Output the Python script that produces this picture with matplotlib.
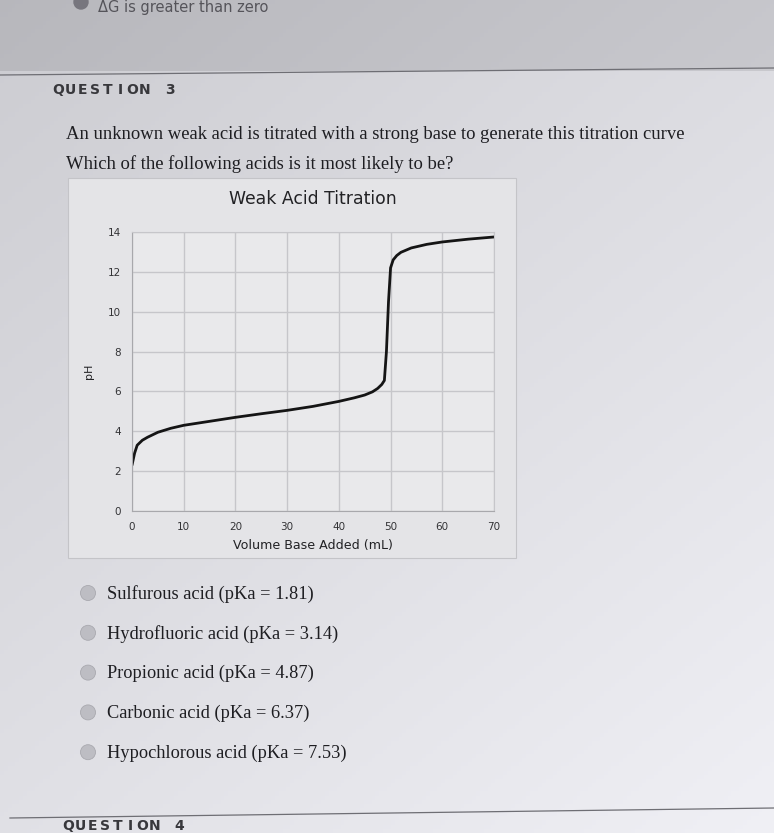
import numpy as np
import matplotlib
matplotlib.use("Agg")
import matplotlib.pyplot as plt
from matplotlib.patches import Rectangle, Circle

# titration curve
volume_ml = [0, 0.5, 1, 2, 3, 5, 7.5, 10, 15, 20, 25, 30, 35, 40, 43, 45, 46.5,
             47.5, 48.3, 48.8, 49.2, 49.6, 50.0, 50.5, 51.2, 52, 54, 57, 60, 65, 70]
ph = [2.3, 2.9, 3.3, 3.55, 3.7, 3.95, 4.15, 4.3, 4.5, 4.7, 4.88, 5.05, 5.25,
      5.5, 5.68, 5.82, 5.98, 6.15, 6.35, 6.55, 8.0, 10.5, 12.2, 12.6, 12.82,
      12.98, 13.2, 13.38, 13.5, 13.64, 13.75]

x_ticks = [0, 10, 20, 30, 40, 50, 60, 70]
y_ticks = [0, 2, 4, 6, 8, 10, 12, 14]

question = ["An unknown weak acid is titrated with a strong base to generate this titration curve",
            "Which of the following acids is it most likely to be?"]
options = ["Sulfurous acid (pKa = 1.81)",
           "Hydrofluoric acid (pKa = 3.14)",
           "Propionic acid (pKa = 4.87)",
           "Carbonic acid (pKa = 6.37)",
           "Hypochlorous acid (pKa = 7.53)"]

W, H = 774, 833
fig = plt.figure(figsize=(W / 100, H / 100), dpi=100)

# page drawn in pixel coordinates
bg = fig.add_axes([0, 0, 1, 1])
bg.set_xlim(0, W)
bg.set_ylim(H, 0)
bg.axis("off")

# soft photographed-screen shading
yy, xx = np.mgrid[0:1:200j, 0:1:200j]
shade = 0.80 + 0.08 * yy + 0.06 * xx
shade[yy < 0.085] -= 0.08
rgb = np.dstack([shade, shade, shade + 0.02]).clip(0, 1)
bg.imshow(rgb, extent=(0, W, H, 0), aspect="auto", zorder=0)

# top remnant of previous question
bg.add_patch(Circle((81, 2), 7, color="#77767e", zorder=2))
bg.text(98, 7, "ΔG is greater than zero", fontsize=10.5, color="#55545a",
        family="DejaVu Sans", va="center", zorder=3)

# separators
bg.plot([0, W], [75, 68], color="#6e6e74", lw=0.9, zorder=2)
bg.plot([10, W], [818, 808], color="#6e6e74", lw=0.9, zorder=2)


def spaced_heading(x0, y0, label):
    # letter-spaced heading, one glyph at a time on an even pitch
    for k, ch in enumerate(label):
        bg.text(x0 + 6 + 12.4 * k, y0, ch, fontsize=10, weight="bold",
                color="#38383c", ha="center", va="center",
                family="DejaVu Sans", zorder=3)


spaced_heading(52, 90, "QUESTION 3")
spaced_heading(62, 826, "QUESTION 4")

for i, line in enumerate(question):
    bg.text(66, 134 + 30 * i, line, fontsize=13.4, family="Liberation Serif",
            color="#1e1e22", va="center", zorder=3)

# chart panel
bg.add_patch(Rectangle((68, 178), 448, 380, facecolor="#e4e4e7",
                       edgecolor="#c4c4c8", lw=0.8, zorder=1))

for i, opt in enumerate(options):
    y = 593 + 39.8 * i
    bg.add_patch(Circle((88, y), 7.5, facecolor="#bdbdc3", edgecolor="#a9a9af",
                        lw=0.6, zorder=2))
    bg.text(107, y + 1, opt, fontsize=13.2, family="Liberation Serif",
            color="#1e1e22", va="center", zorder=3)

# the titration chart
ax = fig.add_axes([132 / W, 1 - 511 / H, (494 - 132) / W, (511 - 232) / H])
ax.set_facecolor("#e9e9eb")
ax.plot(volume_ml, ph, color="#151515", lw=2.0, solid_capstyle="round")
ax.set_xlim(0, 70)
ax.set_ylim(0, 14)
ax.set_xticks(x_ticks)
ax.set_yticks(y_ticks)
ax.grid(True, color="#c6c6ca", lw=1.0)
ax.set_axisbelow(True)
for side in ["top", "right"]:
    ax.spines[side].set_color("#c6c6ca")
for side in ["left", "bottom"]:
    ax.spines[side].set_color("#a8a8ac")
ax.tick_params(length=0, labelsize=7.5, colors="#333336", pad=8)
ax.set_title("Weak Acid Titration", fontsize=12.4, color="#222225", pad=20,
             family="DejaVu Sans")
ax.set_xlabel("Volume Base Added (mL)", fontsize=9.1, color="#222225", labelpad=5)
ax.set_ylabel("pH", fontsize=8, color="#222225", labelpad=10)

fig.savefig("out.png", dpi=100)
